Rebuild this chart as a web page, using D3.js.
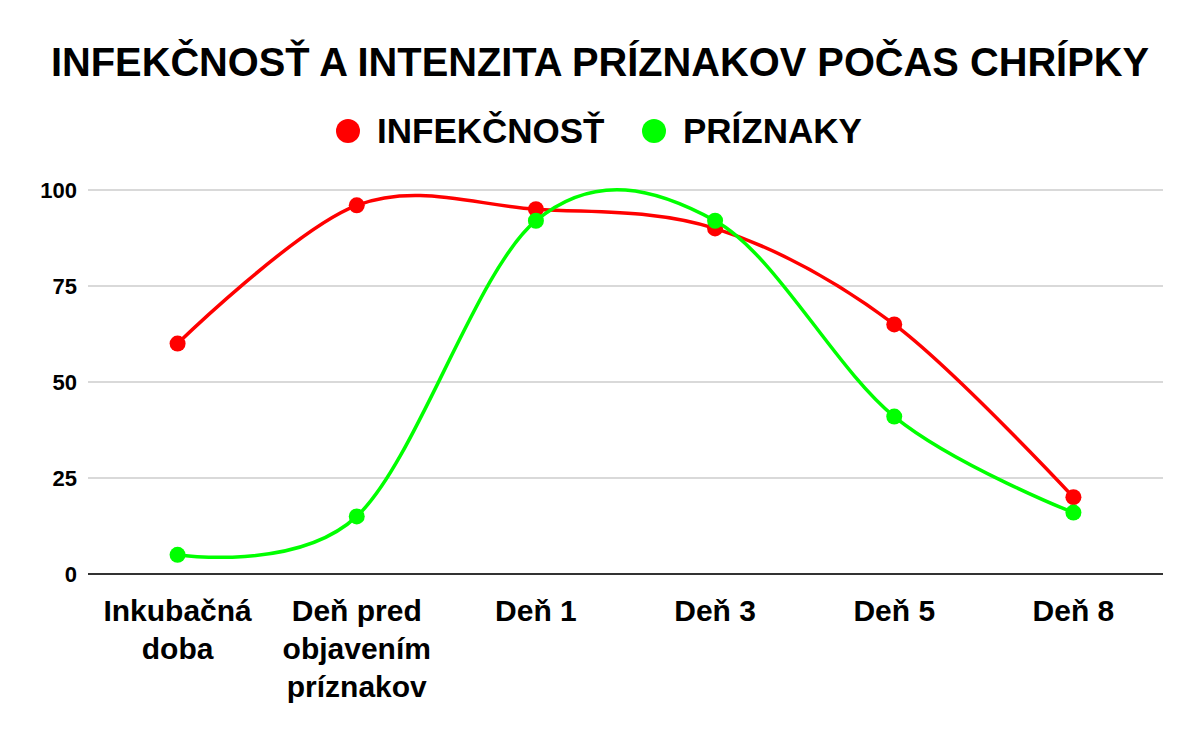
<!DOCTYPE html>
<html>
<head>
<meta charset="utf-8">
<script src="https://cdn.jsdelivr.net/npm/d3@7"></script>
<style>
  body { margin: 0; background: #fff; }
  text { font-family: "Liberation Sans", Arial, sans-serif; font-weight: bold; }
</style>
</head>
<body>
<div id="chart"></div>
<script>
const categories = ["Inkubačná doba", "Deň pred objavením príznakov", "Deň 1", "Deň 3", "Deň 5", "Deň 8"];
const categoryLines = [["Inkubačná", "doba"], ["Deň pred", "objavením", "príznakov"], ["Deň 1"], ["Deň 3"], ["Deň 5"], ["Deň 8"]];
const infekcnost = [60, 96, 95, 90, 65, 20];
const priznaky = [5, 15, 92, 92, 41, 16];
const yTicks = [0, 25, 50, 75, 100];
const seriesNames = ["INFEKČNOSŤ", "PRÍZNAKY"];
const seriesColors = ["#ff0000", "#00ff00"];

const W = 1200, H = 742;
const MARGIN = {top: 190, left: 88, right: 37, bottom: 168};
const width = W - MARGIN.left - MARGIN.right;
const height = H - MARGIN.top - MARGIN.bottom;

const root = d3.select("#chart").append("svg")
    .attr("width", W)
    .attr("height", H);

root.append("text")
    .attr("x", W / 2)
    .attr("y", 76)
    .attr("text-anchor", "middle")
    .attr("font-size", 41)
    .attr("textLength", 1098)
    .attr("lengthAdjust", "spacingAndGlyphs")
    .text("INFEKČNOSŤ A INTENZITA PRÍZNAKOV POČAS CHRÍPKY");

// legend
const legendX = [348, 654];
seriesNames.forEach((name, i) => {
    const g = root.append("g").attr("transform", `translate(${legendX[i]},131)`);
    g.append("circle").attr("r", 12).attr("fill", seriesColors[i]);
    g.append("text")
        .attr("x", 29)
        .attr("y", 12)
        .attr("font-size", 35)
        .text(name);
});

const node = root.append("g")
    .attr("transform", `translate(${MARGIN.left},${MARGIN.top})`);

const x = d3.scaleBand()
    .domain(categories)
    .range([0, width]);

const y = d3.scaleLinear()
    .domain([0, 100])
    .range([height, 0]);

// grid
node.append("g")
    .selectAll("line")
    .data(yTicks.filter(d => d !== 0))
    .enter().append("line")
    .attr("x1", 0).attr("x2", width)
    .attr("y1", d => y(d)).attr("y2", d => y(d))
    .attr("stroke", "#cccccc")
    .attr("stroke-width", 1.5);

const yAxis = node.append("g")
    .call(d3.axisLeft(y).tickValues(yTicks).tickSize(0).tickPadding(11));
yAxis.select(".domain").remove();
yAxis.selectAll("text")
    .attr("font-size", 22)
    .attr("font-family", "Liberation Sans, Arial, sans-serif")
    .attr("fill", "#000");

node.append("line")
    .attr("x1", 0).attr("x2", width)
    .attr("y1", y(0)).attr("y2", y(0))
    .attr("stroke", "#333333")
    .attr("stroke-width", 2);

// x labels
const xLabels = node.append("g")
    .selectAll("text")
    .data(categories)
    .enter().append("text")
    .attr("text-anchor", "middle")
    .attr("font-size", 30)
    .attr("transform", d => `translate(${x(d) + x.bandwidth() / 2},${height + 47})`);
xLabels.each(function(d, i) {
    d3.select(this).selectAll("tspan")
        .data(categoryLines[i])
        .enter().append("tspan")
        .attr("x", 0)
        .attr("dy", (_, j) => j === 0 ? 0 : 38)
        .text(t => t);
});

const line = d3.line()
    .x((d, i) => x(categories[i]) + x.bandwidth() / 2)
    .y(d => y(d))
    .curve(d3.curveCardinal.tension(0));

[infekcnost, priznaky].forEach((values, s) => {
    node.append("path")
        .datum(values)
        .attr("fill", "none")
        .attr("stroke", seriesColors[s])
        .attr("stroke-width", 3.5)
        .attr("d", line);
    node.selectAll(`.dot-${s}`)
        .data(values)
        .enter().append("circle")
        .attr("class", `dot-${s}`)
        .attr("cx", (d, i) => x(categories[i]) + x.bandwidth() / 2)
        .attr("cy", d => y(d))
        .attr("r", 8)
        .attr("fill", seriesColors[s]);
});
</script>
</body>
</html>
